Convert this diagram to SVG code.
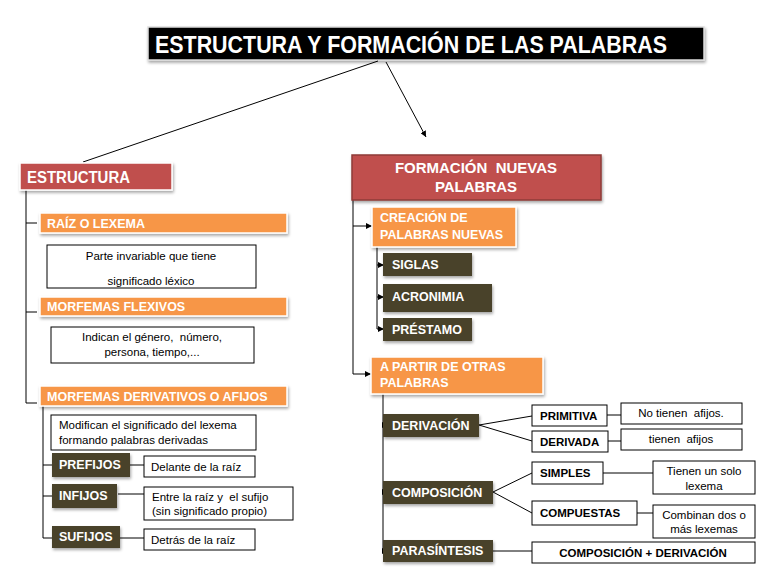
<svg xmlns="http://www.w3.org/2000/svg" width="768" height="576" viewBox="0 0 768 576">
<defs>
<filter id="sh" x="-10%" y="-20%" width="120%" height="160%">
<feDropShadow dx="1" dy="2" stdDeviation="1.5" flood-color="#000" flood-opacity="0.35"/>
</filter>
<marker id="ar" markerWidth="6" markerHeight="6" refX="6" refY="3" orient="auto" markerUnits="userSpaceOnUse">
<path d="M0,0 L6,3 L0,6 z" fill="#000"/>
</marker>
</defs>
<style>
text{font-family:"Liberation Sans",Arial,sans-serif;white-space:pre;}
.lb{font-size:12.5px;font-weight:bold;fill:#fff;}
.bk{font-size:11.5px;font-weight:bold;fill:#000;}
.rg{font-size:11.5px;fill:#000;}
.red{fill:#C0504D;}
.org{fill:#F79646;stroke:#fff;stroke-width:1.5;}
.drk{fill:#4A4329;}
.wb{fill:#fff;stroke:#000;stroke-width:1;}
.ln{stroke:#000;stroke-width:1;fill:none;}
</style>
<rect width="768" height="576" fill="#fff"/>

<g id="title">
<rect x="148" y="27" width="556" height="33" fill="#000" stroke="#ddd" stroke-width="1.5" filter="url(#sh)"/>
<text x="155" y="53" font-size="24" font-weight="bold" fill="#fff" textLength="512" lengthAdjust="spacingAndGlyphs">ESTRUCTURA Y FORMACIÓN DE LAS PALABRAS</text>
</g>

<g id="connectors">
<path class="ln" d="M378,61 L83,162"/>
<path class="ln" d="M386,62 L426,137" marker-end="url(#ar)"/>
<path class="ln" d="M26,190 V403 H37 M26,223 H37 M26,312 H37"/>
<path class="ln" d="M43,406 V538 H52 M43,465 H52 M43,496 H52"/>
<path class="ln" d="M130,465 H144 M118,494 H144 M120,538 H144"/>
<path class="ln" d="M353,200 V374 H371" marker-end="url(#ar)"/>
<path class="ln" d="M353,226 H372" marker-end="url(#ar)"/>
<path class="ln" d="M377,247 V329"/>
<path class="ln" d="M377,265 H384" marker-end="url(#ar)"/>
<path class="ln" d="M377,297 H384" marker-end="url(#ar)"/>
<path class="ln" d="M377,329 H384" marker-end="url(#ar)"/>
<path class="ln" d="M383,394 V551"/>
<path class="ln" d="M383,425 H388" marker-end="url(#ar)"/>
<path class="ln" d="M383,492 H388" marker-end="url(#ar)"/>
<path class="ln" d="M383,551 H388" marker-end="url(#ar)"/>
<path class="ln" d="M479,425 L532,416 M479,425 L532,441"/>
<path class="ln" d="M493,492 L532,473 M493,492 L532,513"/>
<path class="ln" d="M493,551 H532"/>
<path class="ln" d="M607,415 H621 M608,441 H621 M603,473 H653 M637,513 H653"/>
</g>

<g id="estructura">
<rect x="20" y="163" width="152" height="27" class="red" stroke="#fff" stroke-width="1.5" filter="url(#sh)"/>
<text x="27" y="183" font-size="16" font-weight="bold" fill="#fff" textLength="103" lengthAdjust="spacingAndGlyphs">ESTRUCTURA</text>
</g>

<g id="raiz">
<rect x="40" y="213" width="247" height="20" class="org" filter="url(#sh)"/>
<text x="47" y="228" class="lb">RAÍZ O LEXEMA</text>
</g>
<g id="raiz-desc">
<rect x="47" y="245" width="209" height="43" class="wb"/>
<text x="151" y="260" class="rg" text-anchor="middle">Parte invariable que tiene</text>
<text x="151" y="285" class="rg" text-anchor="middle">significado léxico</text>
</g>

<g id="flexivos">
<rect x="40" y="297" width="247" height="19" class="org" filter="url(#sh)"/>
<text x="47" y="311" class="lb">MORFEMAS FLEXIVOS</text>
</g>
<g id="flexivos-desc">
<rect x="51" y="327" width="203" height="36" class="wb"/>
<text x="152" y="341" class="rg" text-anchor="middle">Indican el género,  número,</text>
<text x="152" y="356" class="rg" text-anchor="middle">persona, tiempo,...</text>
</g>

<g id="derivativos">
<rect x="40" y="386" width="247" height="20" class="org" filter="url(#sh)"/>
<text x="47" y="401" class="lb">MORFEMAS DERIVATIVOS O AFIJOS</text>
</g>
<g id="derivativos-desc">
<rect x="51" y="415" width="205" height="35" class="wb"/>
<text x="59" y="429" class="rg">Modifican el significado del lexema</text>
<text x="59" y="444" class="rg">formando palabras derivadas</text>
</g>

<g id="prefijos">
<rect x="52" y="453" width="78" height="24" class="drk" filter="url(#sh)"/>
<text x="59" y="469" class="lb">PREFIJOS</text>
</g>
<g id="prefijos-desc">
<rect x="144" y="456" width="111" height="21" class="wb"/>
<text x="151" y="471" class="rg">Delante de la raíz</text>
</g>

<g id="infijos">
<rect x="52" y="484" width="65" height="24" class="drk" filter="url(#sh)"/>
<text x="59" y="500" class="lb">INFIJOS</text>
</g>
<g id="infijos-desc">
<rect x="144" y="487" width="149" height="33" class="wb"/>
<text x="152" y="501" class="rg">Entre la raíz y  el sufijo</text>
<text x="152" y="515" class="rg">(sin significado propio)</text>
</g>

<g id="sufijos">
<rect x="52" y="526" width="68" height="22" class="drk" filter="url(#sh)"/>
<text x="59" y="541" class="lb">SUFIJOS</text>
</g>
<g id="sufijos-desc">
<rect x="144" y="529" width="111" height="21" class="wb"/>
<text x="151" y="544" class="rg">Detrás de la raíz</text>
</g>

<g id="formacion">
<rect x="352" y="155" width="249" height="45" class="red" stroke="#8E3A37" stroke-width="1.5" filter="url(#sh)"/>
<text x="476" y="173" font-size="15" font-weight="bold" fill="#fff" text-anchor="middle">FORMACIÓN  NUEVAS</text>
<text x="476" y="192" font-size="15" font-weight="bold" fill="#fff" text-anchor="middle">PALABRAS</text>
</g>

<g id="creacion">
<rect x="372" y="207" width="144" height="40" class="org" filter="url(#sh)"/>
<text x="380" y="222" class="lb">CREACIÓN DE</text>
<text x="380" y="239" class="lb">PALABRAS NUEVAS</text>
</g>
<g id="siglas">
<rect x="383" y="253" width="89" height="23" class="drk" filter="url(#sh)"/>
<text x="392" y="269" class="lb">SIGLAS</text>
</g>
<g id="acronimia">
<rect x="383" y="284" width="109" height="28" class="drk" filter="url(#sh)"/>
<text x="392" y="301" class="lb">ACRONIMIA</text>
</g>
<g id="prestamo">
<rect x="383" y="318" width="89" height="23" class="drk" filter="url(#sh)"/>
<text x="392" y="334" class="lb">PRÉSTAMO</text>
</g>

<g id="apartir">
<rect x="371" y="357" width="172" height="37" class="org" filter="url(#sh)"/>
<text x="380" y="371" class="lb">A PARTIR DE OTRAS</text>
<text x="380" y="387" class="lb">PALABRAS</text>
</g>
<g id="derivacion">
<rect x="383" y="414" width="96" height="23" class="drk" filter="url(#sh)"/>
<text x="392" y="430" class="lb">DERIVACIÓN</text>
</g>
<g id="composicion">
<rect x="383" y="481" width="110" height="23" class="drk" filter="url(#sh)"/>
<text x="392" y="497" class="lb">COMPOSICIÓN</text>
</g>
<g id="parasintesis">
<rect x="383" y="540" width="110" height="22" class="drk" filter="url(#sh)"/>
<text x="392" y="555" class="lb">PARASÍNTESIS</text>
</g>

<g id="primitiva">
<rect x="532" y="405" width="75" height="21" class="wb"/>
<text x="540" y="420" class="bk">PRIMITIVA</text>
</g>
<g id="primitiva-desc">
<rect x="621" y="403" width="121" height="21" class="wb"/>
<text x="681" y="417" class="rg" text-anchor="middle">No tienen  afijos.</text>
</g>
<g id="derivada">
<rect x="532" y="431" width="76" height="21" class="wb"/>
<text x="540" y="446" class="bk">DERIVADA</text>
</g>
<g id="derivada-desc">
<rect x="621" y="429" width="121" height="21" class="wb"/>
<text x="681" y="443" class="rg" text-anchor="middle">tienen  afijos</text>
</g>
<g id="simples">
<rect x="532" y="462" width="71" height="22" class="wb"/>
<text x="540" y="477" class="bk">SIMPLES</text>
</g>
<g id="simples-desc">
<rect x="653" y="461" width="102" height="33" class="wb"/>
<text x="704" y="475" class="rg" text-anchor="middle">Tienen un solo</text>
<text x="704" y="490" class="rg" text-anchor="middle">lexema</text>
</g>
<g id="compuestas">
<rect x="532" y="501" width="105" height="24" class="wb"/>
<text x="540" y="517" class="bk">COMPUESTAS</text>
</g>
<g id="compuestas-desc">
<rect x="653" y="505" width="102" height="33" class="wb"/>
<text x="704" y="519" class="rg" text-anchor="middle">Combinan dos o</text>
<text x="704" y="533" class="rg" text-anchor="middle">más lexemas</text>
</g>
<g id="comp-deriv">
<rect x="532" y="542" width="223" height="21" class="wb"/>
<text x="643" y="557" class="bk" text-anchor="middle">COMPOSICIÓN + DERIVACIÓN</text>
</g>
</svg>
